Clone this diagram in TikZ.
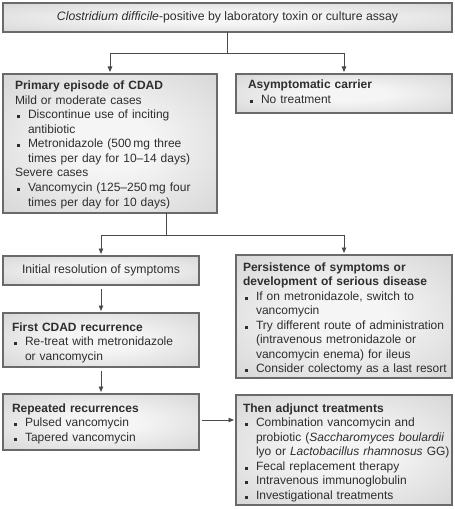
\documentclass[tikz,border=0pt]{standalone}
\usepackage{fontspec}
\setmainfont{Liberation Sans}
\usetikzlibrary{arrows.meta}
\setlength{\parskip}{0pt}
\definecolor{bxin}{HTML}{F5F5F5}
\definecolor{bxout}{HTML}{C6C6C6}
\definecolor{bxline}{HTML}{6A6A6A}
\definecolor{ink}{HTML}{2E2E2E}
\definecolor{connc}{HTML}{4A4A4A}
\pgfdeclareradialshading{boxsh}{\pgfpoint{0bp}{0bp}}{color(0bp)=(bxin); color(10bp)=(bxin); color(50bp)=(bxout); color(72bp)=(bxout)}
\newcommand{\bl}[1]{\par\hangindent=13bp\hangafter=1\noindent\makebox[13bp][l]{\hspace{2bp}\rule[0.5bp]{3bp}{3bp}}#1\par}
\newcommand{\pl}[1]{\noindent #1\par}
\begin{document}
\begin{tikzpicture}[x=1bp,y=-1bp,
  box/.style={draw=bxline, line width=1.1bp, shading=boxsh, anchor=north west, inner sep=0pt, outer sep=0pt},
  txt/.style={anchor=base west, inner sep=0pt, outer sep=0pt, text width=#1, align=left, text=ink,
    font=\fontsize{12bp}{14.5bp}\selectfont},
  ctxt/.style={anchor=center, inner sep=0pt, text=ink, font=\fontsize{12.25bp}{14.5bp}\selectfont},
  conn/.style={draw=connc, line width=0.9bp},
  arr/.style={conn, -{Triangle[length=5.5bp,width=4.5bp]}, shorten >=2bp}]
\useasboundingbox (0,0) rectangle (455,509);
% boxes
\node[box, minimum width=449bp, minimum height=29bp] (top) at (3,3) {};
\node[box, minimum width=214bp, minimum height=139bp] (prim) at (3,74) {};
\node[box, minimum width=216bp, minimum height=39bp] (asym) at (236,74) {};
\node[box, minimum width=196bp, minimum height=29bp] (init) at (3,256) {};
\node[box, minimum width=216bp, minimum height=123bp] (pers) at (236,255) {};
\node[box, minimum width=196bp, minimum height=54bp] (first) at (3,313) {};
\node[box, minimum width=196bp, minimum height=56bp] (rep) at (3,394) {};
\node[box, minimum width=216bp, minimum height=110bp] (adj) at (236,395) {};
% texts
\node[ctxt] (tTop) at (top.center) {\textit{Clostridium difficile}-positive by laboratory toxin or culture assay};
\node[txt=200bp] (tPrim) at (15,90) {\pl{\textbf{Primary episode of CDAD}}
  \pl{Mild or moderate cases}
  \bl{Discontinue use of inciting\newline antibiotic}
  \bl{Metronidazole (500\,mg three\newline times per day for 10–14 days)}
  \pl{Severe cases}
  \bl{Vancomycin (125–250\,mg four\newline times per day for 10 days)}};
\node[txt=200bp] (tAsym) at (248,89) {\pl{\textbf{Asymptomatic carrier}}\bl{No treatment}};
\node[ctxt] (tInit) at (init.center) {Initial resolution of symptoms};
\node[txt=300bp] (tPers) at (243,271) {\pl{\textbf{Persistence of symptoms or}}
  \pl{\textbf{development of serious disease}}
  \bl{If on metronidazole, switch to\newline vancomycin}
  \bl{Try different route of administration\newline (intravenous metronidazole or\newline vancomycin enema) for ileus}
  \bl{Consider colectomy as a last resort}};
\node[txt=185bp] (tFirst) at (12,331) {\pl{\textbf{First CDAD recurrence}}
  \bl{Re-treat with metronidazole\newline or vancomycin}};
\node[txt=185bp] (tRep) at (12,412) {\pl{\textbf{Repeated recurrences}}
  \bl{Pulsed vancomycin}
  \bl{Tapered vancomycin}};
\node[txt=300bp] (tAdj) at (243,412) {\pl{\textbf{Then adjunct treatments}}
  \bl{Combination vancomycin and\newline probiotic (\textit{Saccharomyces boulardii}\newline lyo or \textit{Lactobacillus rhamnosus} GG)}
  \bl{Fecal replacement therapy}
  \bl{Intravenous immunoglobulin}
  \bl{Investigational treatments}};
% connectors
\coordinate (j1) at (227.5,53);
\draw[conn] (top.south) -- (j1);
\draw[arr] (j1) -| (prim.north);
\draw[arr] (j1) -| (asym.north);
\coordinate (j2) at (166,235);
\draw[conn] (prim.south -| j2) -- (j2);
\draw[arr] (j2) -| (init.north);
\draw[arr] (j2) -| (pers.north);
\draw[arr, shorten <=4bp] (init.south) -- (first.north);
\draw[arr, shorten <=4bp] (first.south) -- (rep.north);
\draw[arr, shorten <=3bp] ([yshift=2bp]rep.east) -- ([yshift=2bp]rep.east -| adj.west);
\end{tikzpicture}
\end{document}
